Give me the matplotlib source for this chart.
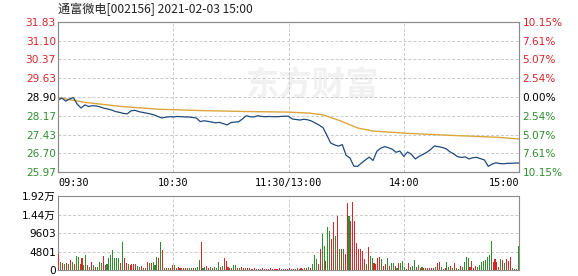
import matplotlib
matplotlib.use("Agg")
import matplotlib.pyplot as plt
import numpy as np

# --- data (minute index from 09:30) ---
TITLE = "通富微电[002156] 2021-02-03 15:00"
PREV_CLOSE = 28.90
PRICE_TICKS = [25.97, 26.70, 27.43, 28.17, 28.90, 29.63, 30.37, 31.10, 31.83]
PCT_LABELS = ["10.15%", "7.61%", "5.07%", "2.54%", "0.00%", "2.54%", "5.07%", "7.61%", "10.15%"]
TIME_TICKS = [0, 60, 120, 180, 240]
TIME_LABELS = ["09:30", "10:30", "11:30/13:00", "14:00", "15:00"]
VOL_TICKS = [0, 4801, 9603, 14404, 19206]
VOL_LABELS = ["0", "4801", "9603", "1.44万", "1.92万"]

# price sampled every 2 minutes
price = [28.78, 28.86, 28.74, 28.82, 28.88, 28.62, 28.47, 28.59, 28.53, 28.56,
         28.55, 28.51, 28.46, 28.43, 28.39, 28.33, 28.30, 28.26, 28.24, 28.36,
         28.38, 28.33, 28.30, 28.27, 28.24, 28.20, 28.14, 28.08, 28.11, 28.13,
         28.12, 28.14, 28.13, 28.12, 28.12, 28.10, 28.08, 27.94, 27.97, 27.95,
         27.92, 27.89, 27.91, 27.86, 27.81, 27.90, 27.92, 27.93, 28.04, 28.17,
         28.13, 28.12, 28.17, 28.14, 28.13, 28.14, 28.13, 28.13, 28.14, 28.15,
         28.15, 28.04, 28.02, 28.00, 28.03, 28.01, 27.96, 27.88, 27.80, 27.70,
         27.40, 27.10, 27.03, 26.98, 27.04, 26.62, 26.52, 26.20, 26.19, 26.32,
         26.44, 26.55, 26.42, 26.78, 26.90, 26.96, 26.92, 26.86, 26.74, 26.79,
         26.58, 26.75, 26.66, 26.48, 26.58, 26.66, 26.74, 26.85, 26.99, 26.96,
         26.93, 26.88, 26.76, 26.68, 26.57, 26.54, 26.56, 26.48, 26.53, 26.54,
         26.49, 26.44, 26.19, 26.28, 26.33, 26.30, 26.29, 26.31, 26.31, 26.32,
         26.32]

# average price line, read at anchor minutes
avg_min = [0, 14, 33, 53, 74, 100, 120, 131, 138, 147, 156, 164, 182, 208, 228, 240]
avg_price = [28.88, 28.69, 28.53, 28.42, 28.37, 28.33, 28.31, 28.27, 28.20, 27.97,
             27.69, 27.57, 27.48, 27.39, 27.33, 27.26]

volume = [4190, 2010, 1750, 1480, 1750, 1480, 2620, 2010, 1480, 3670,
          3490, 1500, 3230, 1310, 3930, 1310, 870, 2180, 1310, 870,
          870, 2180, 1920, 3750, 1310, 1480, 3230, 3930, 5150, 3230,
          3230, 3230, 1920, 7160, 3060, 1920, 1480, 1310, 1480, 1480,
          1480, 1130, 870, 1050, 610, 610, 2180, 1750, 1750, 2180,
          1310, 3490, 3230, 7160, 5150, 440, 440, 440, 610, 1310,
          # 60-121
          1310, 610, 870, 610, 610, 610, 440, 440, 440, 440,
          440, 610, 870, 2620, 7160, 440, 870, 1130, 440, 870,
          610, 870, 440, 2180, 870, 1130, 3230, 2360, 870, 610,
          610, 1310, 1310, 610, 440, 870, 610, 440, 440, 440,
          350, 350, 440, 350, 350, 350, 440, 350, 350, 350,
          440, 350, 350, 350, 350, 440, 350, 350, 350, 350,
          440, 350,
          # 122-179
          350, 350, 440, 350, 440, 350, 530, 440, 870, 600,
          1470, 3800, 2770, 1470, 5540, 9260, 6230, 2330, 11160, 10120,
          8130, 12460, 8820, 14010, 5360, 5540, 5360, 4070, 17300, 14010,
          12720, 17730, 12720, 7090, 5360, 5360, 4930, 2770, 1470, 6050,
          3630, 3200, 1900, 1470, 3200, 3460, 2770, 1040, 1470, 3200,
          1040, 1730, 1900, 1040, 600, 1900, 1900, 2330,
          # 180-239
          870, 260, 1750, 870, 1130, 2620, 870, 1310, 440, 870,
          610, 610, 610, 440, 610, 610, 870, 1920, 2180, 870,
          260, 440, 2000, 870, 1130, 610, 1920, 440, 350, 1130,
          870, 2180, 3320, 3230, 870, 2360, 610, 1130, 870, 1310,
          2180, 2440, 2620, 3490, 3930, 7420, 2180, 2880, 2180, 870,
          2880, 2620, 1920, 2880, 2360, 3320, 440, 260, 260, 6110]

vol_up = ("rgrgrgrgrg" "grrggrgrgr" "gggrrggggg" "ggrgrrgrrr" "rggrrgrgrg" "ggrgrgrgrr"
          "grrrgrrrgg" "rgggrggrrg" "rgggrgrrrg" "rggrgrrgrr" "rrrgrrrrrr" "rrrrrrgrrr" "rr"
          "rrgrrrgrgr" "gggrrggrgg" "rrgrgrgrrg" "rrrrrrrrgr" "ggrrrrgrrg" "rggrgrgg"
          "grrgggrgrg" "rrrrrrgrrg" "rrggrgrgrr" "ggggrrrrgg" "ggggggrrrr" "grgrrrgrrg")
vol_up = vol_up[:len(volume)]

RED = "#d9262a"
GREEN = "#2f8f2f"
GRID = "#c9c9c9"
FRAME = "#8c8c8c"

fig = plt.figure(figsize=(5.78, 2.76), dpi=100)
fig.patch.set_facecolor("white")

ax = fig.add_axes([58 / 578, 1 - 172 / 276, 461 / 578, 150 / 276])
axv = fig.add_axes([58 / 578, 1 - 270 / 276, 461 / 578, 74 / 276])

# watermark
ax.text(0.55, 0.57, "东方财富", transform=ax.transAxes, ha="center", va="center",
        fontsize=24, fontweight="bold", color="#f1f1f1", family=["Noto Sans CJK SC"], zorder=0)

t_price = np.arange(len(price)) * 2
ax.plot(avg_min, avg_price, color="#dca63c", lw=1.0, zorder=3)
ax.plot(t_price, price, color="#1f4a7c", lw=0.9, zorder=4)

ax.set_xlim(0, 240)
ax.set_ylim(PRICE_TICKS[0], PRICE_TICKS[-1])
ax.set_yticks(PRICE_TICKS)
ax.set_yticklabels([f"{v:.2f}" for v in PRICE_TICKS])
ax.set_xticks(TIME_TICKS)
ax.set_xticklabels(TIME_LABELS, family="DejaVu Sans Mono", fontsize=7.3)
for lab, ha in zip(ax.get_xticklabels(), ["left", "center", "center", "center", "right"]):
    lab.set_ha(ha)
ax.tick_params(axis="x", length=0, pad=4)
ax.tick_params(axis="y", length=0, pad=1.5, labelsize=7.6)
for lab, v in zip(ax.get_yticklabels(), PRICE_TICKS):
    lab.set_color(RED if v > PREV_CLOSE else GREEN if v < PREV_CLOSE else "black")
ax.grid(True, ls=(0, (3, 2)), color=GRID, lw=0.7)

axr = ax.twinx()
axr.set_ylim(PRICE_TICKS[0], PRICE_TICKS[-1])
axr.set_yticks(PRICE_TICKS)
axr.set_yticklabels(PCT_LABELS)
axr.tick_params(axis="y", length=0, pad=2.5, labelsize=7.6)
for lab, v in zip(axr.get_yticklabels(), PRICE_TICKS):
    lab.set_color(RED if v > PREV_CLOSE else GREEN if v < PREV_CLOSE else "black")

# volume bars
x_vol = np.arange(len(volume)) + 0.5
colors = [RED if c == "r" else GREEN for c in vol_up]
axv.bar(x_vol, volume, width=0.55, color=colors, linewidth=0, zorder=3)
axv.set_xlim(0, 240)
axv.set_ylim(0, VOL_TICKS[-1])
axv.set_yticks(VOL_TICKS)
axv.set_yticklabels(VOL_LABELS, family=["DejaVu Sans", "Noto Sans CJK SC"])
axv.set_xticks([60, 120, 180])
axv.set_xticklabels([])
axv.tick_params(axis="x", length=0)
axv.tick_params(axis="y", length=0, pad=1.5, labelsize=7.6)
axv.grid(True, ls=(0, (3, 2)), color=GRID, lw=0.7)

for a in (ax, axr, axv):
    for s in a.spines.values():
        s.set_color(FRAME)
        s.set_linewidth(0.8)
    a.set_axisbelow(True)

fig.text(58 / 578, 1 - 9 / 276, TITLE, ha="left", va="center", fontsize=8.7,
         color="#222222", family=["Noto Sans CJK SC", "DejaVu Sans"])

fig.savefig("out.png", dpi=100, facecolor="white")
